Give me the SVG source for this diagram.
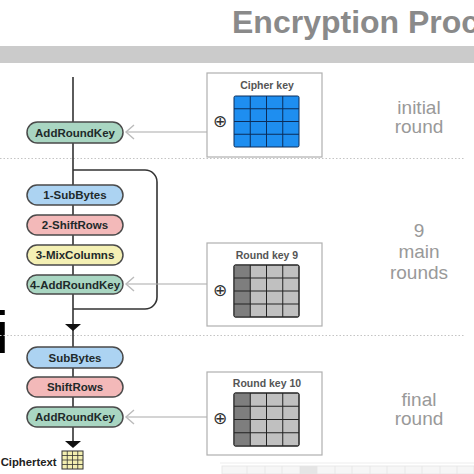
<svg xmlns="http://www.w3.org/2000/svg" width="474" height="474" viewBox="0 0 474 474">
<style>
.pill{stroke:#4a4a4a;stroke-width:1.5}
.pt{font-family:"Liberation Sans",Arial,sans-serif;font-size:11.5px;font-weight:bold;fill:#1e2a2a;text-anchor:middle}
.box{fill:#fff;stroke:#b0b0b0;stroke-width:1.2}
.bt{font-family:"Liberation Sans",Arial,sans-serif;font-size:10.5px;font-weight:bold;fill:#555;text-anchor:middle}
.lab{font-family:"Liberation Sans",Arial,sans-serif;font-size:19px;fill:#999;text-anchor:middle}
.xor{font-family:"DejaVu Sans",sans-serif;font-size:17px;fill:#333;text-anchor:middle}
.dot{stroke:#c4c4c4;stroke-width:1.2;stroke-dasharray:1.5 2;fill:none}
.feed{stroke:#aaa;stroke-width:1.2;fill:none}
.main{stroke:#333;stroke-width:1.6;fill:none}
.gl{stroke:#222;stroke-width:1}
</style>
<defs>
<marker id="open" markerWidth="12" markerHeight="16" refX="9" refY="8" orient="auto" markerUnits="userSpaceOnUse" overflow="visible">
<path d="M1,1 L9,8 L1,15" fill="none" stroke="#bbb" stroke-width="1.4"/>
</marker>
</defs>
<rect width="474" height="474" fill="#fff"/>
<text x="232" y="33" font-family="Liberation Sans,Arial,sans-serif" font-size="32" font-weight="bold" fill="#8a8a8a">Encryption Proc</text>
<rect x="0" y="46" width="474" height="17" fill="#cbcbcb"/>
<text x="-4.5" y="353" font-family="Liberation Sans,Arial,sans-serif" font-size="60" fill="#000">i</text>

<line class="dot" x1="0" y1="158.5" x2="465" y2="158.5"/>
<line class="dot" x1="0" y1="335.5" x2="465" y2="335.5"/>

<g id="connectors">
<line class="main" x1="73" y1="77" x2="73" y2="446"/>
<path class="main" d="M73,170 H145 A12,12 0 0 1 157,182 V297 A12,12 0 0 1 145,309 H73"/>
<path d="M65,324 L81,324 L73,331 Z" fill="#111"/>
<path d="M65,441 L81,441 L73,448 Z" fill="#111"/>
<line class="feed" x1="207" y1="132" x2="126" y2="132" marker-end="url(#open)"/>
<line class="feed" x1="207" y1="284" x2="126" y2="284" marker-end="url(#open)"/>
<line class="feed" x1="207" y1="417" x2="126" y2="417" marker-end="url(#open)"/>
</g>

<g id="addroundkey0"><rect class="pill" x="27" y="122" width="96" height="21" rx="10.5" fill="#a9d6c2"/><text class="pt" x="75" y="136.5">AddRoundKey</text></g>
<g id="subbytes1"><rect class="pill" x="27" y="185" width="96" height="20" rx="10" fill="#acd3f2"/><text class="pt" x="75" y="199">1-SubBytes</text></g>
<g id="shiftrows1"><rect class="pill" x="27" y="215" width="96" height="20" rx="10" fill="#f3b9b9"/><text class="pt" x="75" y="229">2-ShiftRows</text></g>
<g id="mixcolumns1"><rect class="pill" x="27" y="245" width="96" height="20" rx="10" fill="#f4f0b4"/><text class="pt" x="75" y="259">3-MixColumns</text></g>
<g id="addroundkey1"><rect class="pill" x="27" y="275" width="96" height="19" rx="9.5" fill="#a9d6c2"/><text class="pt" x="75" y="288.5">4-AddRoundKey</text></g>
<g id="subbytes2"><rect class="pill" x="27" y="347" width="96" height="21" rx="10.5" fill="#acd3f2"/><text class="pt" x="75" y="361.5">SubBytes</text></g>
<g id="shiftrows2"><rect class="pill" x="27" y="377" width="96" height="20" rx="10" fill="#f3b9b9"/><text class="pt" x="75" y="391">ShiftRows</text></g>
<g id="addroundkey2"><rect class="pill" x="27" y="407" width="96" height="20" rx="10" fill="#a9d6c2"/><text class="pt" x="75" y="421">AddRoundKey</text></g>

<g id="cipherkey">
<rect class="box" x="207" y="73" width="115" height="84"/>
<text class="bt" x="267" y="89">Cipher key</text>
<text class="xor" x="220" y="127">⊕</text>
<rect x="234" y="96" width="65" height="51" rx="1.5" fill="#1e8ef0" stroke="#0b2d5a" stroke-width="1"/>
<path d="M250.25,96V147M266.5,96V147M282.75,96V147M234,108.75H299M234,121.5H299M234,134.25H299" stroke="#0b2d5a" stroke-width="1"/>
</g>

<g id="roundkey9">
<rect class="box" x="207" y="243" width="115" height="83"/>
<text class="bt" x="267" y="259">Round key  9</text>
<text class="xor" x="220" y="296">⊕</text>
<rect x="234" y="265" width="65" height="52" rx="1.5" fill="#c0c0c0" stroke="#222" stroke-width="1"/>
<rect x="234.5" y="265.5" width="15.75" height="51" fill="#7e7e7e"/>
<path class="gl" d="M250.25,265V317M266.5,265V317M282.75,265V317M234,278H299M234,291H299M234,304H299"/>
<rect x="234" y="265" width="65" height="52" rx="1.5" fill="none" stroke="#222" stroke-width="1"/>
</g>

<g id="roundkey10">
<rect class="box" x="207" y="372" width="115" height="83"/>
<text class="bt" x="267" y="387">Round key 10</text>
<text class="xor" x="220" y="424">⊕</text>
<rect x="234" y="393" width="65" height="53" rx="1.5" fill="#c0c0c0" stroke="#222" stroke-width="1"/>
<rect x="234.5" y="393.5" width="15.75" height="52" fill="#7e7e7e"/>
<path class="gl" d="M250.25,393V446M266.5,393V446M282.75,393V446M234,406.25H299M234,419.5H299M234,432.75H299"/>
<rect x="234" y="393" width="65" height="53" rx="1.5" fill="none" stroke="#222" stroke-width="1"/>
</g>

<g id="ciphertext">
<text x="56.5" y="466" font-family="Liberation Sans,Arial,sans-serif" font-size="11.3" font-weight="bold" fill="#222" text-anchor="end">Ciphertext</text>
<rect x="62" y="451" width="21" height="18" fill="#f3efb0" stroke="#333" stroke-width="1"/>
<path d="M67.25,451V469M72.5,451V469M77.75,451V469M62,455.5H83M62,460H83M62,464.5H83" stroke="#333" stroke-width="0.8"/>
</g>

<g id="labels">
<text class="lab" x="419" y="114">initial</text>
<text class="lab" x="419" y="133">round</text>
<text class="lab" x="419" y="237">9</text>
<text class="lab" x="419" y="258">main</text>
<text class="lab" x="419" y="279">rounds</text>
<text class="lab" x="419" y="406">final</text>
<text class="lab" x="419" y="425">round</text>
</g>

<g id="strip" opacity="0.5">
<line x1="220" y1="463" x2="474" y2="463" stroke="#ddd" stroke-width="1"/>
<rect x="222" y="466" width="252" height="8" fill="#eee" stroke="#ccc" stroke-width="0.8"/>
<rect x="300" y="466" width="17" height="8" fill="#ccc"/>
<path d="M247,466V474M265,466V474M282,466V474M300,466V474M317,466V474M335,466V474M352,466V474M370,466V474M387,466V474M405,466V474M422,466V474M440,466V474M457,466V474" stroke="#ccc" stroke-width="0.8"/>
</g>
</svg>
